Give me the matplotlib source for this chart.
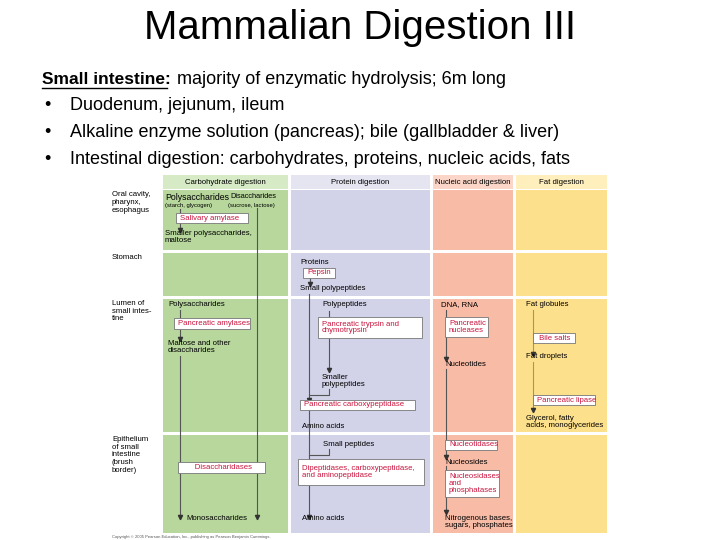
import matplotlib
matplotlib.use("Agg")
import matplotlib.pyplot as plt
from matplotlib.patches import Rectangle

plt.rcParams['font.family'] = ['Liberation Sans', 'DejaVu Sans']

title = "Mammalian Digestion III"
bullets = ["Duodenum, jejunum, ileum",
           "Alkaline enzyme solution (pancreas); bile (gallbladder & liver)",
           "Intestinal digestion: carbohydrates, proteins, nucleic acids, fats"]
col_titles = ["Carbohydrate digestion", "Protein digestion", "Nucleic acid digestion", "Fat digestion"]
col_x = [(163, 288), (291, 430), (433, 513), (516, 607)]
col_body = ["#b7d79c", "#d2d2e8", "#f7bba6", "#fde08c"]
col_head = ["#d6eac6", "#e5e5f2", "#fbd6c8", "#feefbd"]
row_labels = ["Oral cavity,\npharynx,\nesophagus", "Stomach", "Lumen of\nsmall intes-\ntine",
              "Epithelium\nof small\nintestine\n(brush\nborder)"]
row_y = [(190, 250), (253, 296), (299, 432), (435, 533)]

fig = plt.figure(figsize=(7.2, 5.4), dpi=100)
ax = fig.add_axes([0, 0, 1, 1])
ax.set_xlim(0, 720); ax.set_ylim(540, 0); ax.axis('off')

ax.text(360, 28, title, ha='center', va='center', fontsize=29)
st = ax.text(42, 80, "Small intestine:", fontsize=12.5, va='center', fontweight='bold')
fig.canvas.draw()
bb = st.get_window_extent(renderer=fig.canvas.get_renderer())
x_end = bb.x1
ax.plot([42, x_end - 4], [88, 88], color='black', lw=1)
ax.text(x_end + 6, 80, "majority of enzymatic hydrolysis; 6m long", fontsize=13, va='center')
for i, b in enumerate(bullets):
    y = 106 + i * 26.5
    ax.text(44, y, "•", fontsize=13, va='center')
    ax.text(70, y, b, fontsize=13, va='center')

FS = 5.6
RED = "#c8143c"
for (x0, x1), cb, ch, tt in zip(col_x, col_body, col_head, col_titles):
    ax.add_patch(Rectangle((x0, 175), x1 - x0, 14, color=ch, lw=0))
    ax.text((x0 + x1) / 2, 182, tt, ha='center', va='center', fontsize=FS)
    for (y0, y1) in row_y:
        ax.add_patch(Rectangle((x0, y0), x1 - x0, y1 - y0, color=cb, lw=0))
for lab, (y0, y1) in zip(row_labels, row_y):
    ax.text(112, y0 + 1, lab, va='top', fontsize=FS, linespacing=1.15)
ax.text(112, 537, "Copyright © 2005 Pearson Education, Inc., publishing as Pearson Benjamin Cummings.",
        fontsize=3, va='center', color='#555555')

def t(x, y, s, **kw):
    ax.text(x, y, s, va='center', fontsize=kw.pop('fs', FS), linespacing=1.1, **kw)

def box(x0, y0, x1, y1, s):
    ax.add_patch(Rectangle((x0, y0), x1 - x0, y1 - y0, facecolor='white', edgecolor='#777777', lw=0.6, zorder=3))
    ax.text(x0 + 4, (y0 + y1) / 2, s, va='center', fontsize=FS, color=RED, zorder=4, linespacing=1.0)

def arrow(x, y0, y1, head=True, c='#555555'):
    ax.plot([x, x], [y0, y1], color=c, lw=0.8, zorder=2)
    if head:
        ax.plot([x], [y1 - 2], marker='v', ms=3, color='#333333', zorder=2)

# carbohydrate
t(165, 197, "Polysaccharides", fs=6.3)
t(165, 205, "(starch, glycogen)", fs=4.2)
t(230, 197, "Disaccharides", fs=5.3)
t(228, 205, "(sucrose, lactose)", fs=4.2)
arrow(180, 209, 232)
box(176, 213, 248, 223, "Salivary amylase")
t(165, 237, "Smaller polysaccharides,\nmaltose")
arrow(257, 208, 519)
t(168, 305, "Polysaccharides")
arrow(180, 310, 341)
box(174, 318, 250, 329, "Pancreatic amylases")
t(168, 347, "Maltose and other\ndisaccharides")
arrow(180, 356, 519)
box(178, 462, 265, 473, "      Disaccharidases")
t(186, 518, "Monosaccharides")

# protein
t(300, 262, "Proteins")
arrow(310, 270, 286)
box(303, 268, 335, 278, "Pepsin")
t(300, 289, "Small polypeptides")
arrow(309, 294, 402)
arrow(309, 406, 519)
t(322, 305, "Polypeptides")
arrow(329, 311, 372)
box(318, 317, 422, 338, "Pancreatic trypsin and\nchymotrypsin")
t(322, 381, "Smaller\npolypeptides")
ax.plot([329, 329, 309], [389, 395, 395], color='#555555', lw=0.8)
box(300, 400, 415, 410, "Pancreatic carboxypeptidase")
t(302, 426, "Amino acids")
t(323, 444, "Small peptides")
ax.plot([329, 329, 309], [449, 455, 455], color='#555555', lw=0.8)
box(298, 459, 424, 485, "Dipeptidases, carboxypeptidase,\nand aminopeptidase")
t(302, 518, "Amino acids")

# nucleic acid
t(441, 305, "DNA, RNA")
arrow(446, 310, 361)
box(445, 317, 488, 337, "Pancreatic\nnucleases")
t(445, 364, "Nucleotides")
arrow(446, 369, 459)
box(445, 440, 497, 450, "Nucleotidases")
t(445, 462, "Nucleosides")
arrow(446, 466, 514)
box(445, 470, 499, 497, "Nucleosidases\nand\nphosphatases")
t(445, 522, "Nitrogenous bases,\nsugars, phosphates")

# fat
t(526, 305, "Fat globules")
arrow(533, 310, 356, c='#999977')
box(533, 333, 575, 343, " Bile salts")
t(526, 357, "Fat droplets")
arrow(533, 362, 412, c='#999977')
box(533, 395, 595, 405, "Pancreatic lipase")
t(526, 422, "Glycerol, fatty\nacids, monoglycerides")

fig.savefig("out.png", dpi=100)
